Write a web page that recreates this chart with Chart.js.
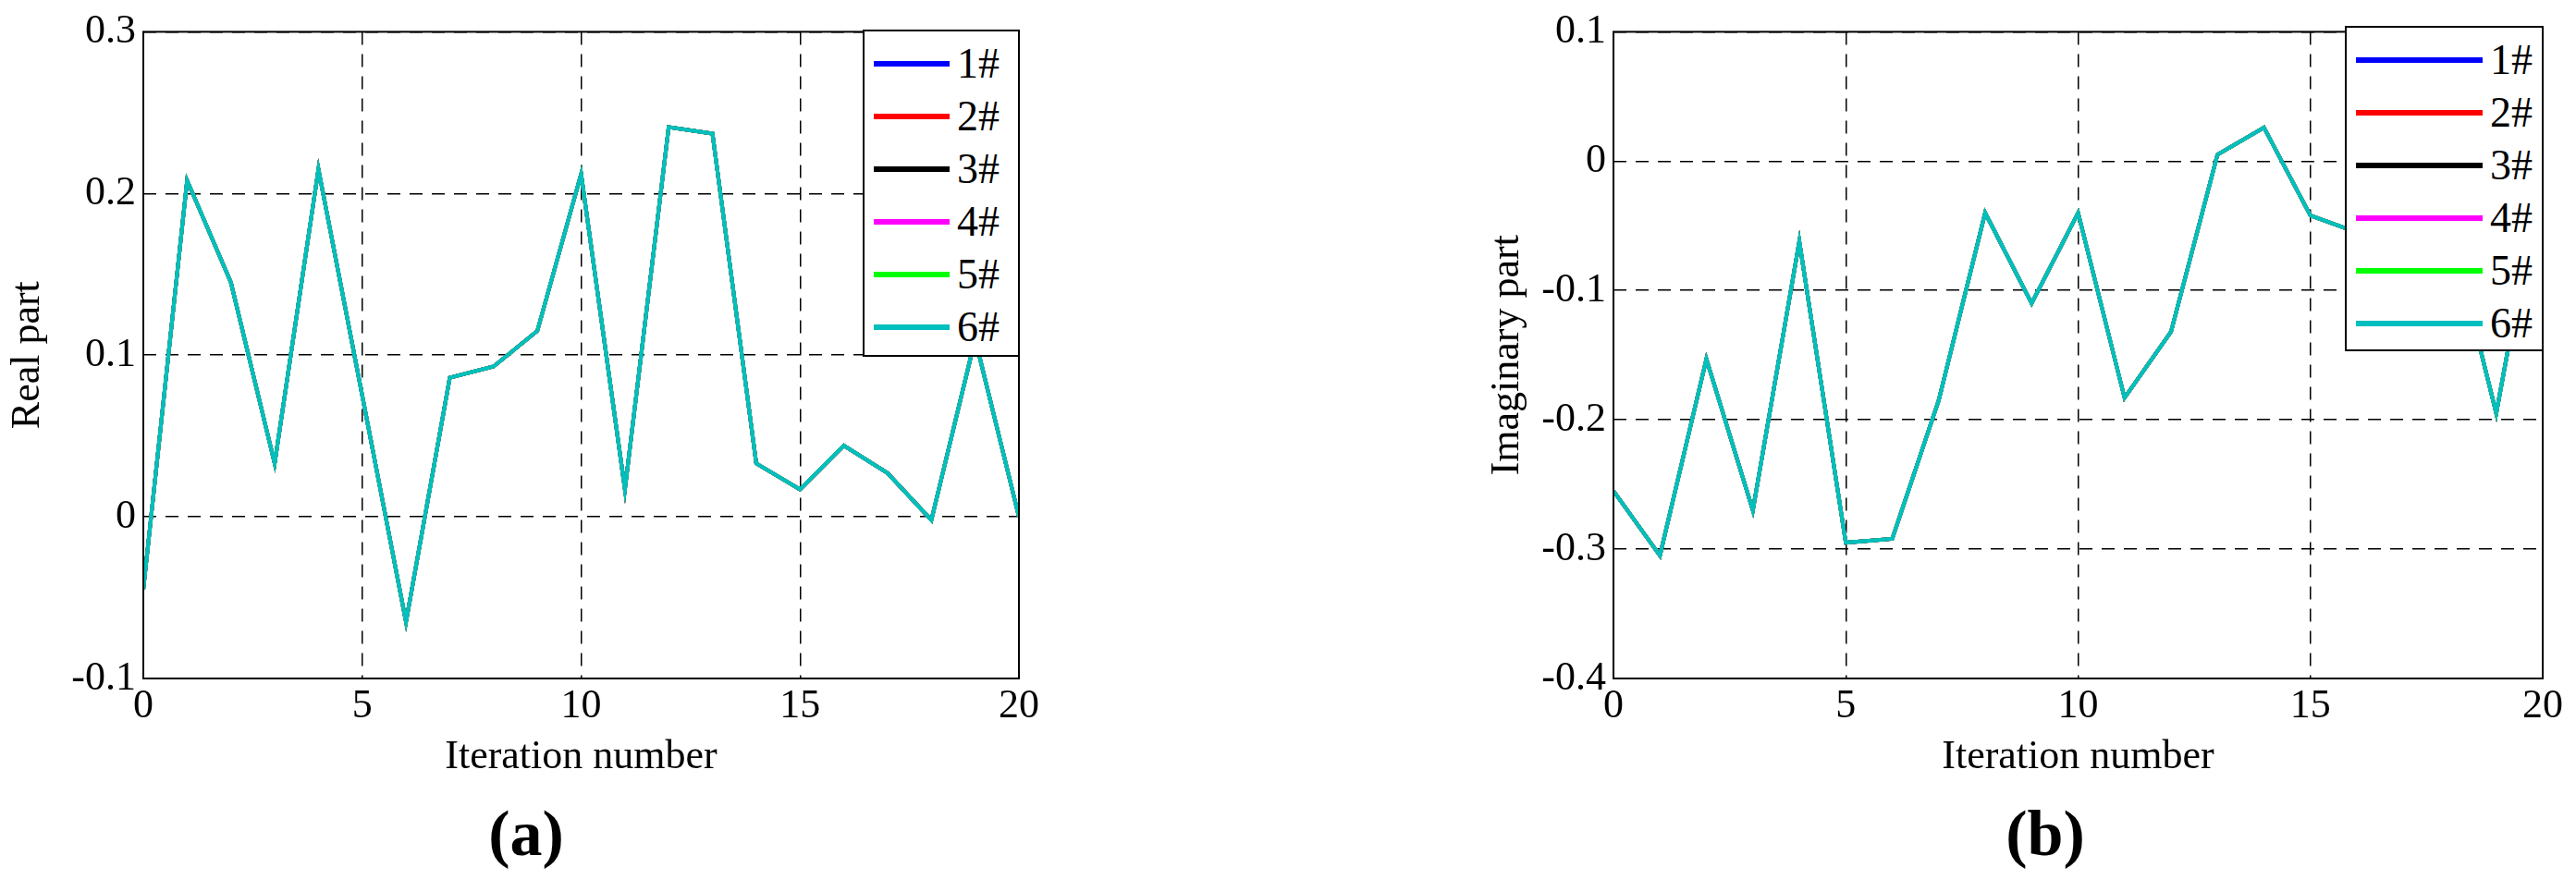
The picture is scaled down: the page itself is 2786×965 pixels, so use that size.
<!DOCTYPE html>
<html><head><meta charset="utf-8">
<script src="https://cdn.jsdelivr.net/npm/chart.js@4"></script>
<style>
body{margin:0;width:2786px;height:965px;background:#fff;position:relative;overflow:hidden;font-family:"Liberation Serif",serif}
.cw{position:absolute;top:0}
.leg{position:absolute;background:#fff;border:2px solid #000;box-sizing:border-box;padding:6px 10px}
.row{display:flex;align-items:center;height:57px;font-size:46px}
.sw{height:6px;margin-right:8px}
.lab{position:absolute;font-weight:bold;font-size:70px;transform:translateX(-50%)}
</style></head><body>
<div class="cw" style="left:0;width:1150px;height:870px"><canvas id="c1"></canvas></div>
<div class="cw" style="left:1600px;width:1186px;height:870px"><canvas id="c2"></canvas></div>
<div class="leg" id="l1" style="left:933px;top:32px;width:170px;height:354px"></div>
<div class="leg" id="l2" style="left:2536px;top:28px;width:215px;height:352px"></div>
<div class="lab" style="left:569px;top:862px">(<span>a</span>)</div>
<div class="lab" style="left:2212px;top:862px">(<span>b</span>)</div>
<script>
const iterations=[0,1,2,3,4,5,6,7,8,9,10,11,12,13,14,15,16,17,18,19,20];
const seriesNames=["1#","2#","3#","4#","5#","6#"];
const seriesColors=["#0000ff","#ff0000","#000000","#ff00ff","#00ff00","#00bfbf"];
const realPart=[-0.045,0.208,0.145,0.033,0.215,0.075,-0.065,0.086,0.093,0.115,0.212,0.017,0.241,0.237,0.033,0.017,0.044,0.027,-0.002,0.11,0.0];
const imagPart=[-0.255,-0.305,-0.153,-0.27,-0.062,-0.295,-0.292,-0.185,-0.04,-0.11,-0.04,-0.183,-0.132,0.005,0.026,-0.042,-0.055,-0.01,-0.05,-0.195,0.0];
const realTicks=[-0.1,0,0.1,0.2,0.3];
const imagTicks=[-0.4,-0.3,-0.2,-0.1,0,0.1];
const xTicks=[0,5,10,15,20];

const frame={id:'frame',afterDraw(c){const a=c.chartArea,x=c.ctx;x.save();x.strokeStyle='#000';x.lineWidth=2;x.strokeRect(a.left,a.top,a.right-a.left,a.bottom-a.top);x.restore();}};
const F='"Liberation Serif", serif';
function make(id,vals,ticks,ytitle,yw,pr,pt){
  const ds=seriesNames.map((n,i)=>({label:n,order:seriesNames.length-1-i,data:iterations.map((it,j)=>({x:it,y:vals[j]})),borderColor:seriesColors[i],borderWidth:4,pointRadius:0,tension:0,fill:false}));
  new Chart(document.getElementById(id),{type:'line',data:{datasets:ds},plugins:[frame],
  options:{responsive:true,maintainAspectRatio:false,animation:false,
   layout:{padding:{top:pt,right:pr,left:0,bottom:24}},
   plugins:{legend:{display:false},tooltip:{enabled:false}},
   scales:{
    x:{type:'linear',min:0,max:20,afterBuildTicks(s){s.ticks=xTicks.map(v=>({value:v}));},afterFit(s){s.height=112;},
      grid:{color:'#000',lineWidth:1.5,drawTicks:false},border:{display:false,dash:[14,10]},
      ticks:{color:'#000',font:{family:F,size:44},padding:4},
      title:{display:true,text:'Iteration number',color:'#000',font:{family:F,size:44},padding:{top:0,bottom:0}}},
    y:{min:ticks[0],max:ticks[ticks.length-1],afterBuildTicks(s){s.ticks=ticks.map(v=>({value:v}));},afterFit(s){s.width=yw;},
      grid:{color:'#000',lineWidth:1.5,drawTicks:false},border:{display:false,dash:[14,10]},
      ticks:{color:'#000',font:{family:F,size:44},padding:8,callback:v=>String(Math.round(v*10)/10)},
      title:{display:true,text:ytitle,color:'#000',font:{family:F,size:44},padding:{bottom:2}}}
   }}});
}
make('c1',realPart,realTicks,'Real part',155,48,32);
make('c2',imagPart,imagTicks,'Imaginary part',145,36,28);
for(const id of ['l1','l2']){const el=document.getElementById(id);
 seriesNames.forEach((n,i)=>{const r=document.createElement('div');r.className='row';
  r.innerHTML='<div class="sw" style="background:'+seriesColors[i]+';width:'+(id==='l1'?82:140)+'px"></div><span>'+n+'</span>';el.appendChild(r);});}
</script></body></html>
